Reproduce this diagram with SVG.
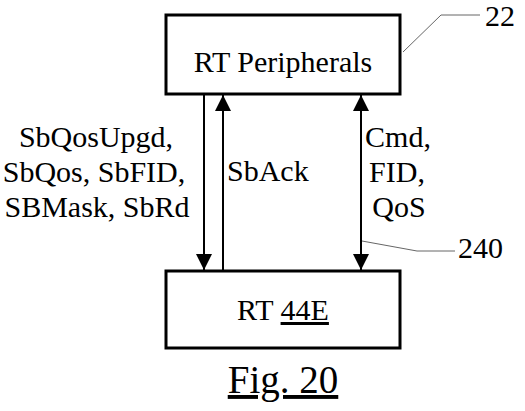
<svg xmlns="http://www.w3.org/2000/svg" width="525" height="411" viewBox="0 0 525 411">
<defs>
<marker id="ah" viewBox="0 0 16 16" refX="16" refY="8" markerWidth="16" markerHeight="16" markerUnits="userSpaceOnUse" orient="auto-start-reverse">
<path d="M0,0 L16,8 L0,16 Z" fill="#000"/>
</marker>
</defs>
<rect width="525" height="411" fill="#fff"/>
<g id="connectors" stroke="#000" stroke-width="2" fill="none">
<line x1="204" y1="94" x2="204" y2="270" marker-end="url(#ah)"/>
<line x1="223" y1="271" x2="223" y2="95" marker-end="url(#ah)"/>
<line x1="361" y1="95" x2="361" y2="270" marker-start="url(#ah)" marker-end="url(#ah)"/>
<polyline points="362,241 417,251 455,251" stroke="#666" stroke-width="1"/>
<polyline points="403,52 441,15 480,15" stroke="#666" stroke-width="1"/>
</g>
<g id="rt-peripherals">
<rect x="166" y="15" width="234" height="79" fill="#fff" stroke="#000" stroke-width="3"/>
<text x="283" y="72" text-anchor="middle" font-size="30" font-family="Times New Roman, Liberation Serif, serif">RT Peripherals</text>
</g>
<g id="rt-44e">
<rect x="166" y="271" width="234" height="77" fill="#fff" stroke="#000" stroke-width="3"/>
<text x="283" y="320" text-anchor="middle" font-size="30" font-family="Times New Roman, Liberation Serif, serif">RT <tspan text-decoration="underline">44E</tspan></text>
</g>
<g id="labels">
<text x="96" y="147" text-anchor="middle" font-size="30" font-family="Times New Roman, Liberation Serif, serif">SbQosUpgd,</text>
<text x="94" y="182" text-anchor="middle" font-size="30" font-family="Times New Roman, Liberation Serif, serif">SbQos, SbFID,</text>
<text x="97" y="217" text-anchor="middle" font-size="30" font-family="Times New Roman, Liberation Serif, serif">SBMask, SbRd</text>
<text x="227" y="181" font-size="30" font-family="Times New Roman, Liberation Serif, serif">SbAck</text>
<text x="398" y="147" text-anchor="middle" font-size="30" font-family="Times New Roman, Liberation Serif, serif">Cmd,</text>
<text x="397" y="182" text-anchor="middle" font-size="30" font-family="Times New Roman, Liberation Serif, serif">FID,</text>
<text x="399" y="217" text-anchor="middle" font-size="30" font-family="Times New Roman, Liberation Serif, serif">QoS</text>
<text x="458" y="258" font-size="30" font-family="Times New Roman, Liberation Serif, serif">240</text>
<text x="485" y="26" font-size="30" font-family="Times New Roman, Liberation Serif, serif">22</text>
<text x="283" y="393" text-anchor="middle" font-size="39" font-family="Times New Roman, Liberation Serif, serif" text-decoration="underline">Fig. 20</text>
</g>
</svg>
